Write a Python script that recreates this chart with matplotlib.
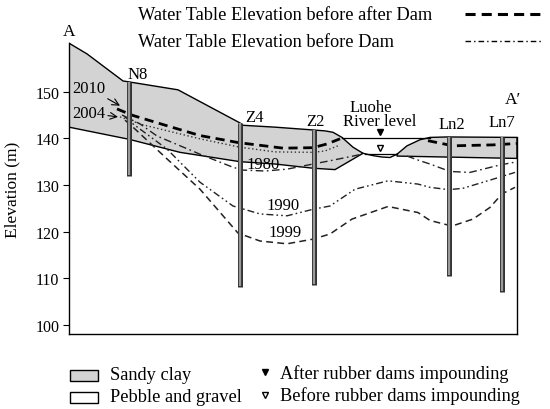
import matplotlib
matplotlib.use('Agg')
import matplotlib.pyplot as plt
import numpy as np
from matplotlib.lines import Line2D
from matplotlib.patches import Rectangle

plt.rcParams['font.family'] = ['Liberation Serif', 'DejaVu Serif']

nan = np.nan

# ---------------- data (distance along section, elevation in m) ----------------
clay_top_x = [0, 18, 54, 60, 109, 171, 174, 206, 244, 256, 264, 273, 284, 294]
clay_top_y = [160.4, 158.1, 152.3, 152.1, 150.4, 143.3, 142.8, 142.4, 141.8, 141.6, 141.3, 140.2, 138.1, 136.8]
clay_bot_x = [0, 60, 111, 171, 206, 244, 266, 294]
clay_bot_y = [142.4, 139.8, 137.0, 135.0, 134.5, 133.6, 133.3, 136.8]

clay2_top_x = [328, 338, 351, 361, 378, 448]
clay2_top_y = [136.6, 138.4, 139.7, 140.2, 140.3, 140.2]
clay2_bot_x = [328, 448]
clay2_bot_y = [136.2, 135.7]

river_bed_x = [294, 304, 313, 321, 328]
river_bed_y = [136.8, 136.3, 136.0, 135.9, 136.6]
river_after_x = [273, 361]
river_after_level = 140.0
river_before_x = [296, 328]
river_before_level = 136.6

wells = ['N8', 'Z4', 'Z2', 'Ln2', 'Ln7']
well_x = [60, 170.5, 245, 380, 432.7]
well_top = [152.1, 143.3, 141.8, 140.3, 140.2]
well_bottom = [132.0, 108.2, 108.5, 110.4, 107.0]

wt2010_x = [48, 64, 98, 131, 169, 214, 244, 258, 271, nan, 359, 384, 424, 448]
wt2010_y = [146.3, 144.9, 142.7, 140.6, 139.1, 137.9, 138.0, 138.8, 139.9, nan, 139.5, 138.4, 138.6, 138.9]

wt2004_x = [51, 74, 131, 171, 206, 244, 256, 269]
wt2004_y = [144.6, 142.9, 139.9, 138.1, 137.1, 137.0, 137.3, 138.4]

wt1980_x = [53, 71, 88, 131, 164, 174, 196, 218, 244, 261, 293, nan, 338, 351, 361, 381, 401, 431, 446]
wt1980_y = [145.0, 143.1, 140.5, 136.6, 133.8, 133.2, 133.0, 133.4, 134.5, 135.2, 136.6, nan, 136.2, 135.2, 134.5, 132.9, 132.7, 134.3, 134.9]

wt1990_x = [56, 64, 98, 131, 164, 191, 218, 244, 261, 286, 319, 349, 361, 380, 394, 431, 446]
wt1990_y = [144.6, 143.1, 137.7, 130.6, 125.5, 123.8, 123.4, 124.8, 125.5, 129.1, 130.9, 130.2, 129.5, 129.0, 129.3, 131.7, 132.7]

wt1999_x = [56, 64, 98, 131, 169, 191, 218, 244, 261, 283, 319, 349, 361, 383, 404, 421, 433, 446]
wt1999_y = [143.9, 142.4, 135.6, 129.1, 119.7, 118.0, 117.4, 118.4, 119.5, 122.7, 125.4, 124.1, 122.4, 121.2, 122.7, 125.2, 128.1, 129.5]

yticks = [100, 110, 120, 130, 140, 150]

# ---------------- figure ----------------
W, H = 550, 410
fig = plt.figure(figsize=(5.5, 4.1), dpi=100)
ax = fig.add_axes([69 / W, 75 / H, 448 / W, 312.3 / H])
ax.set_xlim(0, 448)
ax.set_ylim(98.07, 165)

CLAY = '#d3d3d3'
LEG_FS = 13.2

# sandy clay blocks
ax.fill(clay_top_x + clay_bot_x[::-1], clay_top_y + clay_bot_y[::-1],
        facecolor=CLAY, edgecolor='black', lw=1.0, zorder=1)
ax.fill(clay2_top_x + clay2_bot_x[::-1], clay2_top_y + clay2_bot_y[::-1],
        facecolor=CLAY, edgecolor='black', lw=1.0, zorder=1)
ax.plot(river_bed_x, river_bed_y, color='black', lw=1.0, zorder=2)
ax.plot(river_after_x, [river_after_level] * 2, color='black', lw=0.9, zorder=2)
ax.plot(river_before_x, [river_before_level] * 2, color='black', lw=0.9, zorder=2)
ax.plot([np.mean(river_after_x) - 6.5], [river_after_level + 1.3], marker='v', ms=5,
        color='black', zorder=5, ls='none')
ax.plot([np.mean(river_after_x) - 6.5], [river_before_level + 1.3], marker='v', ms=5,
        color='black', mfc='white', zorder=5, ls='none')

# water tables
ax.plot(wt2010_x, wt2010_y, color='black', lw=2.0, dashes=(3.3, 2.0), zorder=3)
ax.plot(wt2004_x, wt2004_y, color='#333333', lw=1.0, dashes=(1, 1.8), zorder=3)
ax.plot(wt1980_x, wt1980_y, color='#222222', lw=1.0, dashes=(5.5, 2.5, 1.2, 2.5), zorder=3)
ax.plot(wt1990_x, wt1990_y, color='#222222', lw=1.0, dashes=(5, 2.2, 1.2, 2.2, 1.2, 2.2), zorder=3)
ax.plot(wt1999_x, wt1999_y, color='#222222', lw=1.1, dashes=(4.5, 2.8), zorder=3)

# wells
for x, t, b in zip(well_x, well_top, well_bottom):
    ax.plot([x, x], [b, t], color='#333333', lw=3.6, solid_capstyle='butt', zorder=4)
    ax.plot([x, x], [b + 0.25, t], color='#9a9a9a', lw=1.6, solid_capstyle='butt', zorder=4)

# labels
ax.text(0, 163.1, 'A', ha='center', va='center', fontsize=12.5, clip_on=False)
ax.text(444, 148.4, 'A\u2032', ha='center', va='center', fontsize=12.5, clip_on=False)
well_lab = {'N8': (69, 153.8), 'Z4': (186, 144.5), 'Z2': (246, 143.8),
            'Ln2': (383, 143.1), 'Ln7': (433, 143.4)}
for name in wells:
    px, py = well_lab[name]
    ax.text(px, py, name, ha='center', va='center', fontsize=12)
ax.text(302, 146.8, 'Luohe', ha='center', va='center', fontsize=12)
ax.text(311, 143.7, 'River level', ha='center', va='center', fontsize=12)
ax.text(194, 134.5, '1980', ha='center', va='center', fontsize=12, zorder=6)
ax.text(214, 125.7, '1990', ha='center', va='center', fontsize=12, zorder=6)
ax.text(216, 120.0, '1999', ha='center', va='center', fontsize=12, zorder=6)

ax.annotate('2010', xy=(51, 147.0), xytext=(3, 150.8), ha='left', va='center', fontsize=12,
            arrowprops=dict(arrowstyle='->', lw=0.8, color='black', shrinkA=0, shrinkB=0))
ax.annotate('2004', xy=(49, 144.6), xytext=(3, 145.4), ha='left', va='center', fontsize=12,
            arrowprops=dict(arrowstyle='->', lw=0.8, color='black', shrinkA=0, shrinkB=0))

# axes styling
ax.spines['top'].set_visible(False)
ax.spines['left'].set_bounds(98.07, clay_top_y[0])
ax.spines['right'].set_bounds(98.07, clay2_top_y[-1])
for s in ['left', 'right', 'bottom']:
    ax.spines[s].set_linewidth(1.0)
ax.set_xticks([])
ax.set_yticks(yticks)
ax.tick_params(axis='y', direction='out', length=4, width=0.8, labelsize=11.5, pad=3)
ax.set_ylabel('Elevation (m)', fontsize=12.5)
ax.yaxis.set_label_coords(-0.108, 0.464)


def fx(px):
    return px / W


def fy(py):
    return 1 - py / H


# top legend
fig.text(fx(138), fy(15), 'Water Table Elevation before after Dam', ha='left', va='center', fontsize=LEG_FS)
fig.add_artist(Line2D([fx(465), fx(543)], [fy(15)] * 2, color='black', lw=2.2, dashes=(3.3, 2.0)))
fig.text(fx(138), fy(42.5), 'Water Table Elevation before Dam', ha='left', va='center', fontsize=LEG_FS)
fig.add_artist(Line2D([fx(465), fx(543)], [fy(42)] * 2, color='black', lw=1.0, dashes=(4, 2.2, 1, 2.2)))

# bottom legend
fig.add_artist(Rectangle((fx(70), fy(381.7)), 28 / W, 11 / H, transform=fig.transFigure,
                         facecolor=CLAY, edgecolor='black', lw=1.0))
fig.add_artist(Rectangle((fx(70), fy(404)), 28 / W, 11 / H, transform=fig.transFigure,
                         facecolor='white', edgecolor='black', lw=1.0))
fig.text(fx(110), fy(375.5), 'Sandy clay', ha='left', va='center', fontsize=LEG_FS)
fig.text(fx(110), fy(397.5), 'Pebble and gravel', ha='left', va='center', fontsize=LEG_FS)
fig.add_artist(Line2D([fx(265)], [fy(373)], marker='v', ms=5, color='black', ls='none'))
fig.add_artist(Line2D([fx(265)], [fy(396)], marker='v', ms=5, color='black', mfc='white', ls='none'))
fig.text(fx(280), fy(374), 'After rubber dams impounding', ha='left', va='center', fontsize=LEG_FS)
fig.text(fx(280), fy(396.5), 'Before rubber dams impounding', ha='left', va='center', fontsize=LEG_FS)

fig.savefig('out.png', dpi=100)
